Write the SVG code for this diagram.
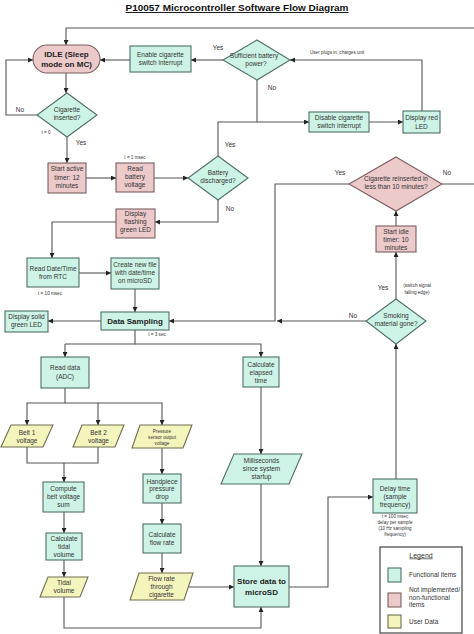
<svg xmlns="http://www.w3.org/2000/svg" width="474" height="634" viewBox="0 0 474 634">
<defs>
<marker id="ah" markerWidth="5" markerHeight="5" refX="5" refY="2.5" orient="auto" markerUnits="userSpaceOnUse"><path d="M0,0 L5,2.5 L0,5 z" fill="#222"/></marker>
<style>
.c{fill:#cdf3e6;stroke:#4f6e69;stroke-width:1.1}
.p{fill:#eccaca;stroke:#7d5f5f;stroke-width:1.1}
.y{fill:#f4f4bd;stroke:#6e6e50;stroke-width:1.1}
text{font-family:"Liberation Sans",Arial,sans-serif;fill:#333;text-anchor:middle;font-size:6.5px}
.b{font-weight:bold;font-size:8px;fill:#222}
.s{font-size:4.6px}
.l{font-size:6.5px}
.e path{fill:none;stroke:#555;stroke-width:1.1;marker-end:url(#ah)}
.e path.n{marker-end:none}
</style>
</defs>
<rect width="474" height="634" fill="#fff"/>
<text x="237" y="11" style="font-size:9.5px;font-weight:bold;fill:#111;text-decoration:underline" textLength="223" lengthAdjust="spacingAndGlyphs">P10057 Microcontroller Software Flow Diagram</text>

<g class="e" id="connectors">
<path d="M442,184 H477 V28 H66 V45"/>
<path d="M66,73 V93"/>
<path d="M37,115 H6 V60 H33"/>
<path d="M67,137 V163"/>
<path d="M86,178 H116"/>
<path d="M154,178 H188"/>
<path d="M218,156 V122 H309"/>
<path class="n" d="M257,80 V122"/>
<path d="M369,122 H403"/>
<path d="M422,111 V60 H290"/>
<path d="M223,60 H191"/>
<path d="M130,60 H100"/>
<path d="M218,200 V222 H155"/>
<path d="M116,222 H52 V258"/>
<path d="M79,273 H111"/>
<path d="M135,289 V312"/>
<path d="M101,321 H48"/>
<path d="M366,321 H277"/>
<path d="M349,184 H275 V321 H169"/>
<path d="M396,226 V211"/>
<path d="M396,299 V252"/>
<path d="M396,479 V344"/>
<path class="n" d="M135,330 V344 H65"/>
<path d="M65,344 V357"/>
<path d="M135,344 H261 V357"/>
<path d="M65,388 V403 H27 V425"/>
<path d="M65,403 H98 V425"/>
<path d="M98,403 H162 V425"/>
<path class="n" d="M27,447 V463 H98 V447"/>
<path d="M64,463 V482"/>
<path d="M162,448 V474"/>
<path d="M162,503 V524"/>
<path d="M162,553 V573"/>
<path d="M189,587 H234"/>
<path d="M64,512 V533"/>
<path d="M64,560 V577"/>
<path d="M64,597 V628 H261 V607"/>
<path d="M261,387 V454"/>
<path d="M261,484 V566"/>
<path d="M289,587 H328 V497 H373"/>
</g>

<g id="labels">
<text class="l" x="218" y="50">Yes</text>
<text class="l" x="272" y="90">No</text>
<text class="l" x="230" y="147">Yes</text>
<text class="l" x="230" y="211">No</text>
<text class="l" x="20" y="112">No</text>
<text class="l" x="81" y="145">Yes</text>
<text class="l" x="340" y="175">Yes</text>
<text class="l" x="447" y="175">No</text>
<text class="l" x="353" y="318">No</text>
<text class="l" x="383" y="290">Yes</text>
<text class="s" x="310" y="54" style="text-anchor:start">User plugs in, charges unit</text>
<text class="s" x="46" y="134">t = 0</text>
<text class="s" x="135" y="159">t = 1 msec</text>
<text class="s" x="50" y="295">t = 10 msec</text>
<text class="s" x="157" y="336">t = 3 sec</text>
<text class="s" x="417" y="287">(switch signal</text>
<text class="s" x="417" y="293.5">falling edge)</text>
<text class="s" x="395" y="518">t = 100 msec</text>
<text class="s" x="395" y="524">delay per sample</text>
<text class="s" x="395" y="530">(10 Hz sampling</text>
<text class="s" x="395" y="536">frequency)</text>
</g>

<g id="idle"><rect class="p" x="33" y="45" width="67" height="28" rx="14"/><text class="b" x="66.5" y="57">IDLE (Sleep</text><text class="b" x="66.5" y="67">mode on MC)</text></g>
<g id="enable"><rect class="c" x="130" y="46" width="61" height="26"/><text x="160.5" y="57">Enable cigarette</text><text x="160.5" y="65">switch interrupt</text></g>
<g id="sufficient"><polygon class="c" points="257,40 290,60 257,80 223,60"/><text x="254" y="58">Sufficient battery</text><text x="256" y="66">power?</text></g>
<g id="disable"><rect class="c" x="309" y="112" width="60" height="20"/><text x="339" y="120">Disable cigarette</text><text x="339" y="128">switch interrupt</text></g>
<g id="redled"><rect class="c" x="403" y="111" width="37" height="22"/><text x="421.5" y="120">Display red</text><text x="421.5" y="128.5">LED</text></g>
<g id="inserted"><polygon class="c" points="67,93 97,115 67,137 37,115"/><text x="67" y="112">Cigarette</text><text x="67" y="120">inserted?</text></g>
<g id="activetimer"><rect class="p" x="48" y="163" width="38" height="30"/><text x="67" y="171">Start active</text><text x="67" y="180">timer: 12</text><text x="67" y="188">minutes</text></g>
<g id="readbatt"><rect class="p" x="116" y="163" width="38" height="29"/><text x="135" y="171">Read</text><text x="135" y="179">battery</text><text x="135" y="187">voltage</text></g>
<g id="discharged"><polygon class="c" points="218,156 248,178 218,200 188,178"/><text x="218" y="175">Battery</text><text x="218" y="183">discharged?</text></g>
<g id="flashing"><rect class="p" x="116" y="209" width="39" height="29"/><text x="135.5" y="216">Display</text><text x="135.5" y="224">flashing</text><text x="135.5" y="232">green LED</text></g>
<g id="readrtc"><rect class="c" x="27" y="258" width="52" height="29"/><text x="53" y="271">Read Date/Time</text><text x="53" y="279">from RTC</text></g>
<g id="newfile"><rect class="c" x="111" y="258" width="48" height="31"/><text x="135" y="267">Create new file</text><text x="135" y="275">with date/time</text><text x="135" y="283">on microSD</text></g>
<g id="sampling"><rect class="c" x="101" y="312" width="68" height="18"/><text class="b" x="135" y="324">Data Sampling</text></g>
<g id="solidled"><rect class="c" x="5" y="311" width="43" height="21"/><text x="26.5" y="318.5">Display solid</text><text x="26.5" y="326.5">green LED</text></g>
<g id="reinserted"><polygon class="p" points="396,157 442,184 396,211 349,184"/><text x="396" y="181">Cigarette reinserted in</text><text x="396" y="189">less than 10 minutes?</text></g>
<g id="idletimer"><rect class="p" x="376" y="226" width="40" height="26"/><text x="396" y="233.5">Start idle</text><text x="396" y="241.5">timer: 10</text><text x="396" y="249.5">minutes</text></g>
<g id="gone"><polygon class="c" points="396,299 426,321 396,344 366,321"/><text x="396" y="318">Smoking</text><text x="396" y="326">material gone?</text></g>
<g id="readdata"><rect class="c" x="41" y="357" width="48" height="31"/><text x="65" y="369.5">Read data</text><text x="65" y="378.5">(ADC)</text></g>
<g id="elapsed"><rect class="c" x="243" y="357" width="36" height="30"/><text x="261" y="366.5">Calculate</text><text x="261" y="374.5">elapsed</text><text x="261" y="382.5">time</text></g>
<g id="belt1"><polygon class="y" points="11,425 53,425 43,447 1,447"/><text x="27" y="434.5">Belt 1</text><text x="27" y="442.5">voltage</text></g>
<g id="belt2"><polygon class="y" points="82,425 124,425 115,447 73,447"/><text x="98.5" y="434.5">Belt 2</text><text x="98.5" y="442.5">voltage</text></g>
<g id="pressure"><polygon class="y" points="140,425 192,425 183,448 132,448"/><text class="s" x="162" y="432.5">Pressure</text><text class="s" x="162" y="438.5">sensor output</text><text class="s" x="162" y="444.5">voltage</text></g>
<g id="compute"><rect class="c" x="43" y="482" width="41" height="30"/><text x="63.5" y="490.5">Compute</text><text x="63.5" y="498.5">belt voltage</text><text x="63.5" y="506.5">sum</text></g>
<g id="tidalcalc"><rect class="c" x="46" y="533" width="36" height="27"/><text x="64" y="540.5">Calculate</text><text x="64" y="548.5">tidal</text><text x="64" y="556.5">volume</text></g>
<g id="tidal"><polygon class="y" points="48,577 88,577 80,597 40,597"/><text x="64" y="584.5">Tidal</text><text x="64" y="592.5">volume</text></g>
<g id="handpiece"><rect class="c" x="143" y="474" width="38" height="29"/><text x="162" y="483.5">Handpiece</text><text x="162" y="491">pressure</text><text x="162" y="498.5">drop</text></g>
<g id="flowcalc"><rect class="c" x="143" y="524" width="38" height="29"/><text x="162" y="536.5">Calculate</text><text x="162" y="545">flow rate</text></g>
<g id="flowrate"><polygon class="y" points="139,573 193,573 184,600 130,600"/><text x="161.5" y="580.5">Flow rate</text><text x="161.5" y="588.5">through</text><text x="161.5" y="596.5">cigarette</text></g>
<g id="millis"><polygon class="c" points="234,454 302,454 289,484 221,484"/><text x="261.5" y="462.5">Milliseconds</text><text x="261.5" y="470.5">since system</text><text x="261.5" y="478.5">startup</text></g>
<g id="store"><rect class="c" x="234" y="566" width="55" height="41"/><text class="b" x="261.5" y="584">Store data to</text><text class="b" x="261.5" y="594.5">microSD</text></g>
<g id="delay"><rect class="c" x="373" y="479" width="44" height="34"/><text x="395" y="490.5">Delay time</text><text x="395" y="499">(sample</text><text x="395" y="507">frequency)</text></g>

<g id="legend">
<rect x="380" y="547" width="82" height="86" fill="#fff" stroke="#333" stroke-width="1.1"/>
<text x="421" y="557.5" style="font-size:7px;text-decoration:underline">Legend</text>
<rect class="c" x="388" y="568" width="13" height="14"/>
<rect class="p" x="388" y="593" width="13" height="14"/>
<rect class="y" x="388" y="615" width="13" height="13"/>
<text x="409" y="577" style="text-anchor:start">Functional items</text>
<text x="409" y="592" style="text-anchor:start">Not implemented/</text>
<text x="409" y="599.5" style="text-anchor:start">non-functional</text>
<text x="409" y="607" style="text-anchor:start">items</text>
<text x="409" y="624" style="text-anchor:start">User Data</text>
</g>
</svg>
